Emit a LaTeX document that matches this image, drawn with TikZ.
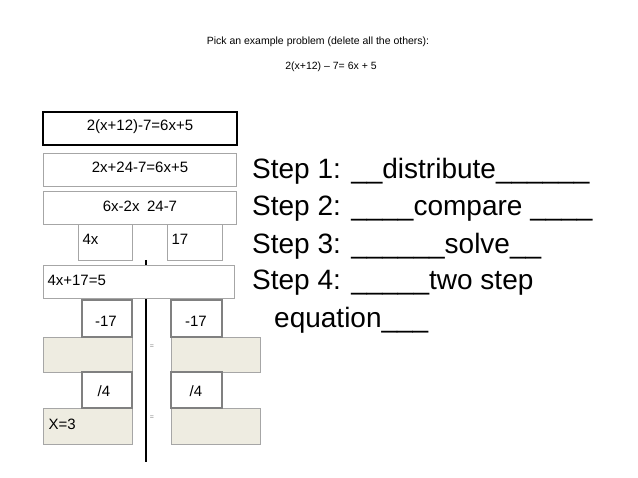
\documentclass[tikz,border=0pt]{standalone}
\usepackage{fontspec}
\setmainfont{Liberation Sans}
\definecolor{beige}{HTML}{EEECE1}
\begin{document}
\begin{tikzpicture}[x=1pt,y=-1pt,
 bx/.style={draw=gray!70,line width=0.8pt},
 tb/.style={draw=gray,line width=2pt,fill=white},
 gb/.style={draw=gray!70,line width=0.8pt,fill=beige},
 tx/.style={font=\fontsize{15}{18}\selectfont},
 st/.style={anchor=west,font=\fontsize{28}{32}\selectfont,inner sep=0pt}]
\useasboundingbox (0,0) rectangle (638,478);
\node[font=\fontsize{10.5}{12}\selectfont] (h1) at (318,42) {Pick an example problem (delete all the others):};
\node[font=\fontsize{10.5}{12}\selectfont] (h2) at (331,67) {2(x+12) – 7= 6x + 5};
\draw[line width=1.3pt] (146,260) coordinate (l1) -- (146,462) coordinate (l2);
\draw[line width=2.2pt] (43,112) rectangle (237,145);
\node[tx] (b1) at (140,127) {2(x+12)-7=6x+5};
\draw[bx] (43,153) rectangle (236,186);
\node[tx] (b2) at (140,167) {2x+24-7=6x+5};
\draw[bx] (43,191) rectangle (236,224);
\node[tx] (b3) at (140,206) {6x-2x\enspace 24-7};
\draw[bx] (78,224) rectangle (132,260);
\node[anchor=west,tx] (c1) at (79,239) {4x};
\draw[bx] (167,224) rectangle (222,260);
\node[anchor=west,tx] (c2) at (168,239) {17};
\draw[bx,fill=white] (43,265) rectangle (234,298);
\node[anchor=west,tx] (d) at (44,280) {4x+17=5};
\draw[gb] (43,337) rectangle (132,372);
\draw[gb] (171,337) rectangle (260,372);
\draw[tb] (82,300) rectangle (132,337);
\node[tx] (e1) at (106,321) {-17};
\draw[tb] (171,300) rectangle (222,337);
\node[tx] (e2) at (196,321) {-17};
\node[font=\fontsize{7}{8}\selectfont,gray] (q1) at (152,347) {=};
\draw[gb] (43,408) rectangle (132,444);
\draw[gb] (171,408) rectangle (260,444);
\draw[tb] (82,372) rectangle (132,408);
\node[tx] (f1) at (104,391) {/4};
\draw[tb] (171,372) rectangle (222,408);
\node[tx] (f2) at (196,391) {/4};
\node[font=\fontsize{7}{8}\selectfont,gray] (q2) at (152,418) {=};
\node[anchor=west,tx] (g) at (45,424) {X=3};
\node[st] (s1) at (252,171) {Step 1: \_\_distribute\_\_\_\_\_\_};
\node[st] (s2) at (252,209) {Step 2: \_\_\_\_compare \_\_\_\_};
\node[st] (s3) at (252,246) {Step 3: \_\_\_\_\_\_solve\_\_};
\node[st] (s4) at (252,283) {Step 4: \_\_\_\_\_two step};
\node[st] (s5) at (274,320) {equation\_\_\_};
\end{tikzpicture}
\end{document}
